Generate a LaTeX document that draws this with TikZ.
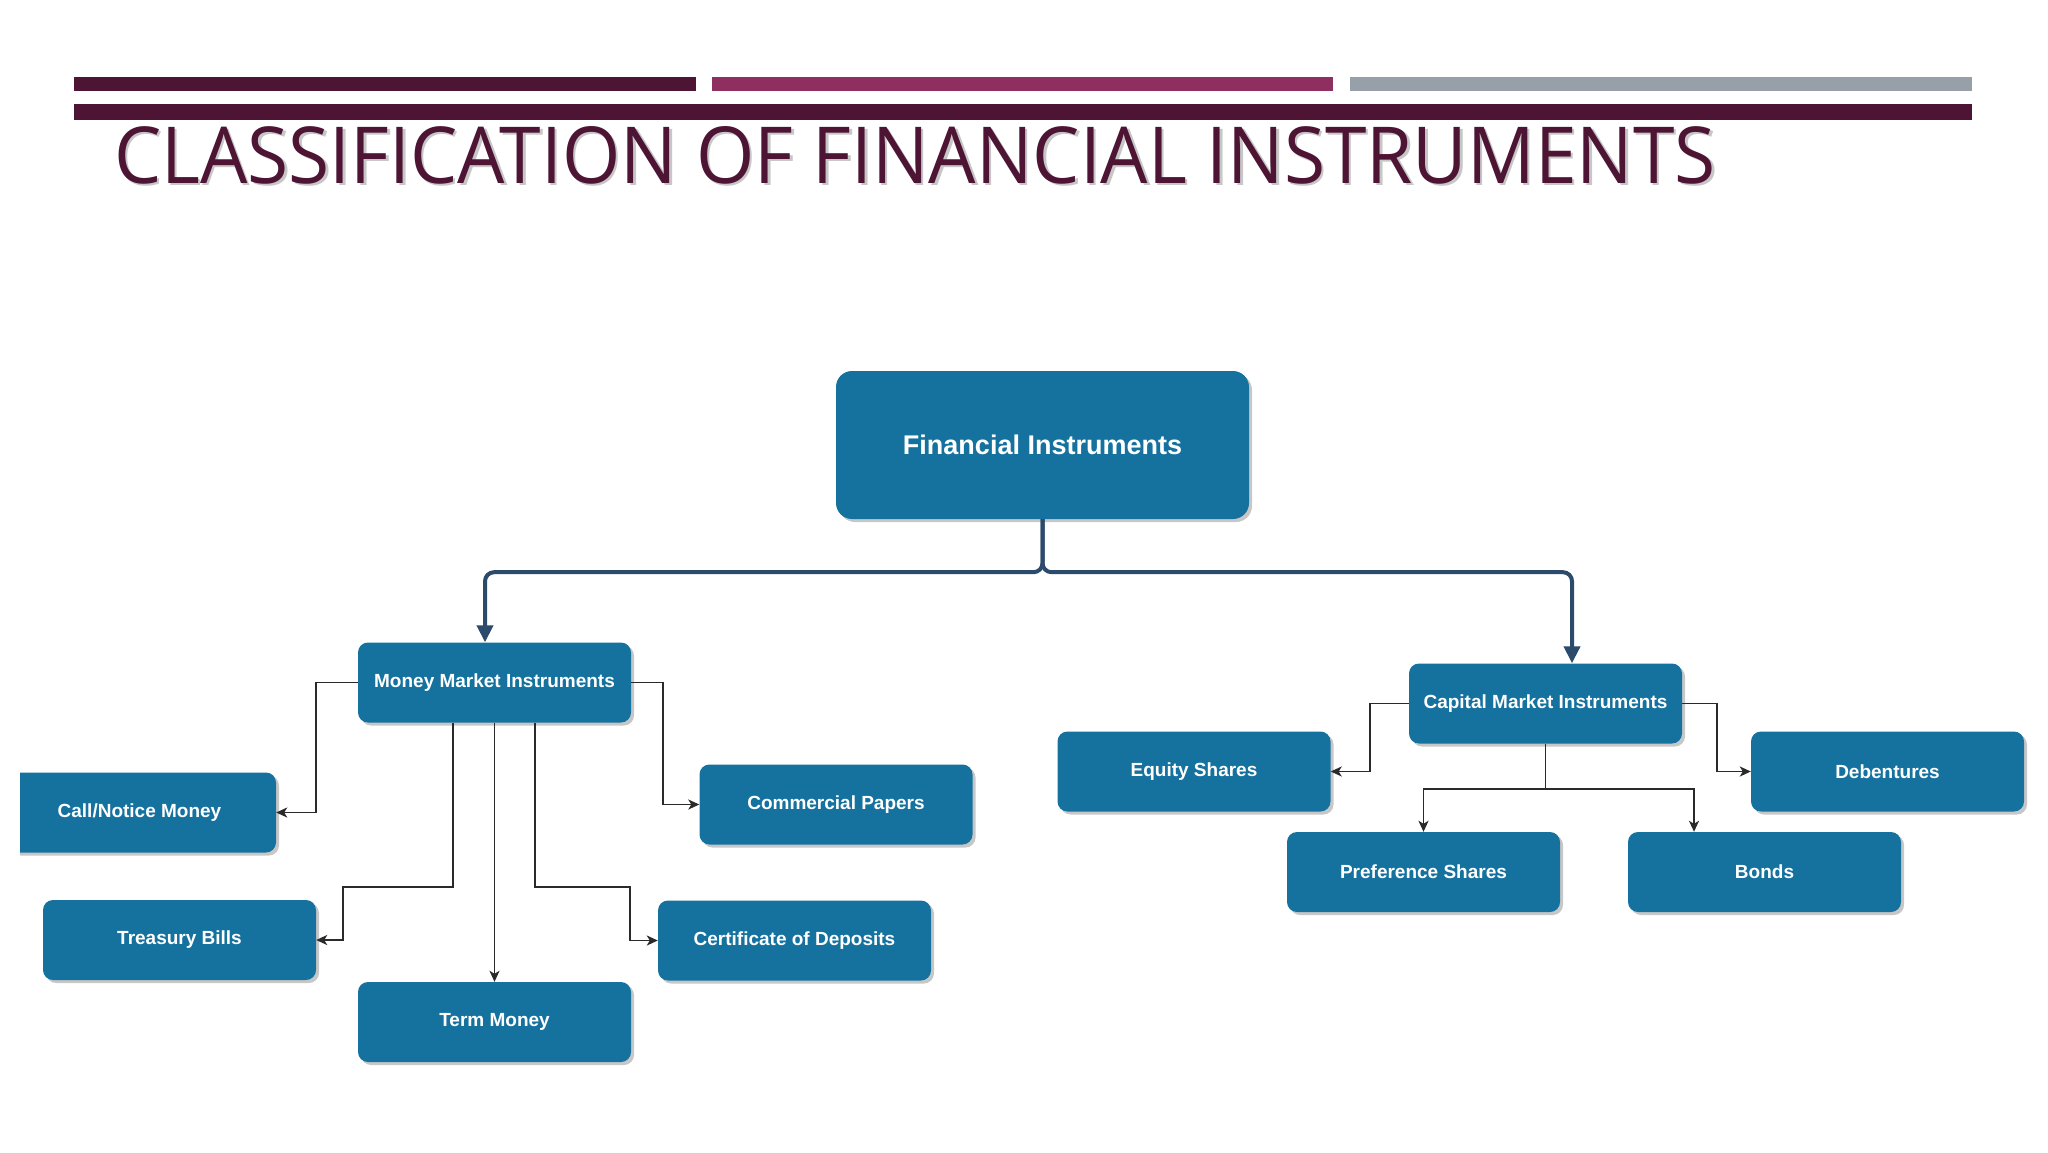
\documentclass[tikz,border=0pt]{standalone}
\usepackage{graphicx}
\usepackage{fontspec}
\setmainfont{Liberation Sans}
\newfontfamily\titlefont{Open Sans}
\usetikzlibrary{arrows.meta,shadows}
\definecolor{plumdark}{HTML}{4D1434}
\definecolor{plummag}{HTML}{8E2F60}
\definecolor{bargray}{HTML}{97A0A8}
\definecolor{boxblue}{HTML}{15729F}
\definecolor{mainline}{HTML}{2C4A6B}
\definecolor{thinc}{HTML}{2A2A2A}
\begin{document}
\begin{tikzpicture}[x=1pt,y=-1pt,
  box/.style={fill=boxblue, rounded corners=10pt, text=white,
    font=\bfseries\fontsize{19}{22}\selectfont,
    minimum width=273pt, minimum height=80pt, inner sep=0pt,
    drop shadow={shadow xshift=3pt, shadow yshift=-3pt, fill=black, opacity=0.22}},
  bigbox/.style={box, rounded corners=16pt, minimum width=413pt, minimum height=148pt,
    font=\bfseries\fontsize{27}{32}\selectfont},
  mainarrow/.style={draw=mainline, line width=4pt, rounded corners=9pt,
    -{Triangle[length=17pt,width=16pt]}},
  thinline/.style={draw=thinc, line width=1.8pt},
  thinarrow/.style={thinline, -{Stealth[length=11pt,width=10pt,inset=3pt]}}
]
\useasboundingbox (0,0) rectangle (2048,1152);
\fill[white] (0,0) rectangle (2048,1152);

% header bars
\fill[plumdark] (74,77) rectangle (696,91);
\fill[plummag] (712,77) rectangle (1333,91);
\fill[bargray] (1350,77) rectangle (1972,91);
\fill[plumdark] (74,104) rectangle (1972,120);

% title
\node[anchor=south west, inner sep=0pt, text=black!22] (titleshadow) at (116.5,186.5)
  {\resizebox{1601pt}{57pt}{\titlefont CLASSIFICATION OF FINANCIAL INSTRUMENTS}};
\node[anchor=south west, inner sep=0pt, text=plumdark] (title) at (114,184)
  {\resizebox{1601pt}{57pt}{\titlefont CLASSIFICATION OF FINANCIAL INSTRUMENTS}};

% nodes
\node[bigbox] (FI) at (1042.5,445) {Financial Instruments};
\node[box] (MM) at (494.5,682.5) {Money Market Instruments};
\node[box] (CM) at (1545.5,703.5) {Capital Market Instruments};
\begin{scope}
  \clip (20,0) rectangle (2048,1152);
  \node[box] (Call) at (139.5,812.5) {Call/Notice Money};
\end{scope}
\node[box] (TB) at (179.5,940) {Treasury Bills};
\node[box] (TM) at (494.5,1022) {Term Money};
\node[box] (CP) at (836,804.5) {Commercial Papers};
\node[box] (CD) at (794.5,940.5) {Certificate of Deposits};
\node[box] (ES) at (1194,771.5) {Equity Shares};
\node[box] (Deb) at (1887.5,771.5) {Debentures};
\node[box] (PS) at (1423.5,872) {Preference Shares};
\node[box] (Bonds) at (1764.5,872) {Bonds};

% main connectors
\draw[mainarrow] (FI.south) -- ++(0,53) -| ([xshift=-9.5pt]MM.north);
\draw[mainarrow] (FI.south) -- ++(0,53) -| ([xshift=26.5pt]CM.north);

% money market connectors
\draw[thinarrow] (MM.west) -- ++(-42,0) |- (Call.east);
\draw[thinarrow] (MM.east) -- ++(32,0) |- (CP.west);
\draw[thinarrow] ([xshift=-41.5pt]MM.south) -- ++(0,164) -- ++(-110,0) |- (TB.east);
\draw[thinarrow] (MM.south) -- (TM.north);
\draw[thinarrow] ([xshift=40.5pt]MM.south) -- ++(0,164) -- ++(95,0) |- (CD.west);

% capital market connectors
\draw[thinarrow] (CM.west) -- ++(-39,0) |- (ES.east);
\draw[thinarrow] (CM.east) -- ++(35,0) |- (Deb.west);
\draw[thinline] (CM.south) -- ++(0,45) coordinate (cmj);
\draw[thinarrow] (cmj) -| (PS.north);
\draw[thinarrow] (cmj) -| ([xshift=-70.5pt]Bonds.north);
\end{tikzpicture}
\end{document}
